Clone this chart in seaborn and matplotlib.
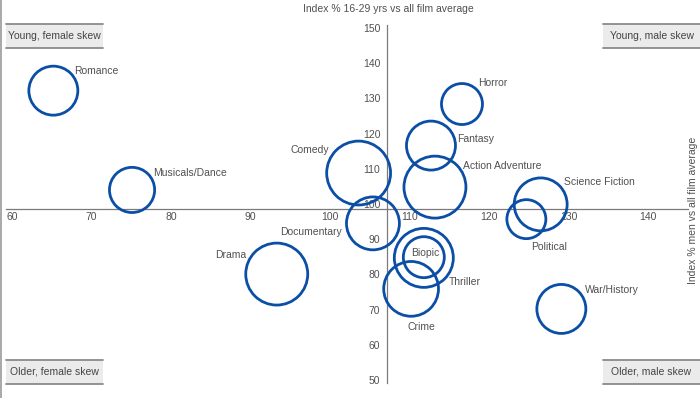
import matplotlib
matplotlib.use("Agg")
import matplotlib.pyplot as plt
import seaborn as sns
import pandas as pd
from matplotlib.patches import Rectangle
from matplotlib.lines import Line2D

# data
genres = ["Romance", "Musicals/Dance", "Comedy", "Documentary", "Drama",
          "Horror", "Fantasy", "Action Adventure", "Science Fiction",
          "Political", "Biopic", "Thriller", "Crime", "War/History"]
index_men = [65.2, 75.1, 103.6, 105.4, 93.3,
             116.6, 112.7, 113.2, 126.5,
             124.7, 111.8, 111.8, 110.2, 129.1]
index_young = [132.2, 104.0, 108.8, 94.5, 80.1,
               128.4, 116.6, 104.8, 99.9,
               95.7, 84.9, 84.7, 75.9, 70.2]
bubble_value = [60, 51, 102, 70, 96,
                42, 60, 96, 70,
                38, 42, 87, 75, 60]

x_ticks = [60, 70, 80, 90, 100, 110, 120, 130, 140]
y_ticks = [50, 60, 70, 80, 90, 100, 110, 120, 130, 140, 150]

quadrants = ["Young, female skew", "Young, male skew",
             "Older, female skew", "Older, male skew"]

BLUE = "#0b4ea6"
GREY_TXT = "#505050"
FONT = "Liberation Sans"

df = pd.DataFrame({"genre": genres, "men": index_men,
                   "young": index_young, "value": bubble_value})

sns.set_style("white")
plt.rcParams["font.family"] = [FONT, "DejaVu Sans"]

W, H = 700, 398
fig = plt.figure(figsize=(W / 100, H / 100), dpi=100)
ax = fig.add_axes([0, 0, 1, 1])
ax.set_facecolor("none")

# bubble area proportional to value (px radius * 0.72 -> points)
k = (2 * 0.72) ** 2 * 10
vmin, vmax = min(bubble_value), max(bubble_value)
sns.scatterplot(data=df, x="men", y="young", size="value",
                sizes=(vmin * k, vmax * k), size_norm=(vmin, vmax),
                facecolor="none", edgecolor=BLUE, linewidth=2.0,
                legend=False, ax=ax, zorder=3)

ax.set_xlim(58.49, 146.54)
ax.set_ylim(44.9, 157.95)
ax.set_xlabel("")
ax.set_ylabel("")

for s in ["top", "right"]:
    ax.spines[s].set_visible(False)
ax.spines["left"].set_position(("data", 107.2))
ax.spines["bottom"].set_position(("data", 98.6))
ax.spines["left"].set_bounds(49.15, 150.85)
ax.spines["bottom"].set_bounds(59.25, 145.0)
for s in ["left", "bottom"]:
    ax.spines[s].set_color("#7a7a7a")
    ax.spines[s].set_linewidth(0.9)

ax.set_xticks(x_ticks)
ax.set_yticks(y_ticks)
ax.tick_params(axis="x", length=0, pad=2, labelsize=7.5, labelcolor=GREY_TXT)
ax.tick_params(axis="y", length=0, pad=5, labelsize=7.5, labelcolor=GREY_TXT)

# label offsets in pixels from bubble centre, plus alignment
label_pos = {
    "Romance": (21, 20, "left"),
    "Musicals/Dance": (21, 17, "left"),
    "Comedy": (-30, 23, "right"),
    "Documentary": (-31, -9, "right"),
    "Drama": (-30, 19, "right"),
    "Horror": (16, 21, "left"),
    "Fantasy": (26, 7, "left"),
    "Action Adventure": (28, 21, "left"),
    "Science Fiction": (23, 22, "left"),
    "Political": (5, -28, "left"),
    "Biopic": (-13, 4, "left"),
    "Thriller": (25, -24, "left"),
    "Crime": (-4, -38, "left"),
    "War/History": (24, 19, "left"),
}
for g, x, y in zip(genres, index_men, index_young):
    dx, dy, ha = label_pos[g]
    ax.annotate(g, (x, y), xytext=(dx, dy), textcoords="offset pixels",
                ha=ha, va="center", fontsize=7.5, color=GREY_TXT)

# quadrant tags (pixel boxes)
boxes = [(6, 24), (603, 24), (6, 360), (603, 360)]
for label, (bx, by) in zip(quadrants, boxes):
    bw, bh = 97, 24
    fig.patches.append(Rectangle((bx / W, 1 - (by + bh) / H), bw / W, bh / H,
                                 transform=fig.transFigure, facecolor="#ebebeb",
                                 edgecolor="none", zorder=1))
    for yy in (by, by + bh):
        fig.lines.append(Line2D([bx / W, (bx + bw) / W], [1 - yy / H, 1 - yy / H],
                                transform=fig.transFigure, color="#8a8a8a", lw=1.3))
    fig.text((bx + bw / 2) / W, 1 - (by + bh / 2) / H, label, ha="center",
             va="center", fontsize=7.5, color="#444444")

# left edge frame line
fig.lines.append(Line2D([0.5 / W, 0.5 / W], [0, 1], transform=fig.transFigure,
                        color="#9a9a9a", lw=1.2))

fig.text(388 / W, 1 - 9 / H, "Index % 16-29 yrs vs all film average",
         ha="center", va="center", fontsize=7.5, color=GREY_TXT)
fig.text(693 / W, 1 - 210 / H, "Index % men vs all film average",
         ha="center", va="center", rotation=90, fontsize=7.5, color=GREY_TXT)

fig.savefig("out.png", dpi=100)
